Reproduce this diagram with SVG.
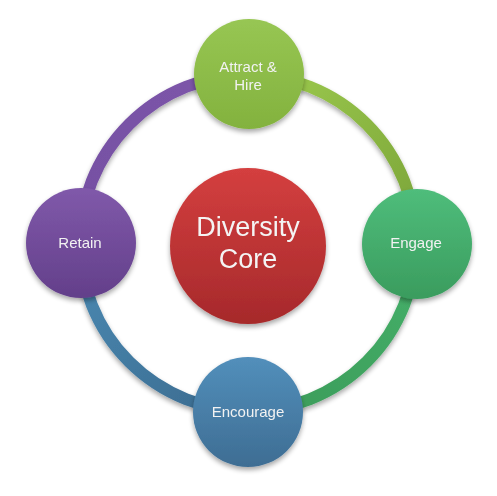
<svg xmlns="http://www.w3.org/2000/svg" width="497" height="496" viewBox="0 0 497 496">
<defs>
<filter id="sh" x="-30%" y="-30%" width="160%" height="170%">
<feGaussianBlur in="SourceAlpha" stdDeviation="2.5"/>
<feOffset dy="3" result="b"/>
<feComponentTransfer><feFuncA type="linear" slope="0.35"/></feComponentTransfer>
<feMerge><feMergeNode/><feMergeNode in="SourceGraphic"/></feMerge>
</filter>
<linearGradient id="gTop" x1="0" y1="0" x2="0" y2="1"><stop offset="0" stop-color="#97c653"/><stop offset="1" stop-color="#83b23e"/></linearGradient>
<linearGradient id="gRight" x1="0" y1="0" x2="0" y2="1"><stop offset="0" stop-color="#4fbd7b"/><stop offset="1" stop-color="#3a9c5e"/></linearGradient>
<linearGradient id="gBottom" x1="0" y1="0" x2="0" y2="1"><stop offset="0" stop-color="#528fbb"/><stop offset="1" stop-color="#3e6d93"/></linearGradient>
<linearGradient id="gLeft" x1="0" y1="0" x2="0" y2="1"><stop offset="0" stop-color="#8059aa"/><stop offset="1" stop-color="#633f8a"/></linearGradient>
<linearGradient id="gCore" x1="0" y1="0" x2="0" y2="1"><stop offset="0" stop-color="#d43f3f"/><stop offset="1" stop-color="#a6292b"/></linearGradient>
<linearGradient id="aTR" gradientUnits="userSpaceOnUse" x1="248" y1="75" x2="416" y2="243"><stop offset="0" stop-color="#9dcb4e"/><stop offset="1" stop-color="#7aa338"/></linearGradient>
<linearGradient id="aBR" gradientUnits="userSpaceOnUse" x1="416" y1="243" x2="248" y2="411"><stop offset="0" stop-color="#46b06a"/><stop offset="1" stop-color="#3a9a58"/></linearGradient>
<linearGradient id="aBL" gradientUnits="userSpaceOnUse" x1="80" y1="243" x2="248" y2="411"><stop offset="0" stop-color="#4a8ab3"/><stop offset="1" stop-color="#3b6a8e"/></linearGradient>
<linearGradient id="aTL" gradientUnits="userSpaceOnUse" x1="80" y1="243" x2="248" y2="75"><stop offset="0" stop-color="#7550a2"/><stop offset="1" stop-color="#7d55aa"/></linearGradient>
</defs>
<style>
.arc{fill:none;stroke-width:12}
.lbl{font-family:"Liberation Sans",Arial,sans-serif;font-size:15px;fill:#f2f2f2;text-anchor:middle}
.big{font-family:"Liberation Sans",Arial,sans-serif;font-size:27px;fill:#f4f4f4;text-anchor:middle}
</style>
<g id="connectors" filter="url(#sh)">
<path class="arc" stroke="url(#aTR)" d="M248,75 A168,168 0 0 1 416,243"/>
<path class="arc" stroke="url(#aBR)" d="M416,243 A168,168 0 0 1 248,411"/>
<path class="arc" stroke="url(#aBL)" d="M248,411 A168,168 0 0 1 80,243"/>
<path class="arc" stroke="url(#aTL)" d="M80,243 A168,168 0 0 1 248,75"/>
</g>
<g id="core" filter="url(#sh)">
<circle cx="248" cy="246" r="78" fill="url(#gCore)"/>
<text class="big" x="248" y="236">Diversity</text>
<text class="big" x="248" y="268">Core</text>
</g>
<g id="attract" filter="url(#sh)">
<circle cx="249" cy="74" r="55" fill="url(#gTop)"/>
<text class="lbl" x="248" y="72">Attract &amp;</text>
<text class="lbl" x="248" y="90">Hire</text>
</g>
<g id="engage" filter="url(#sh)">
<circle cx="417" cy="244" r="55" fill="url(#gRight)"/>
<text class="lbl" x="416" y="248">Engage</text>
</g>
<g id="encourage" filter="url(#sh)">
<circle cx="248" cy="412" r="55" fill="url(#gBottom)"/>
<text class="lbl" x="248" y="417">Encourage</text>
</g>
<g id="retain" filter="url(#sh)">
<circle cx="81" cy="243" r="55" fill="url(#gLeft)"/>
<text class="lbl" x="80" y="248">Retain</text>
</g>
</svg>
